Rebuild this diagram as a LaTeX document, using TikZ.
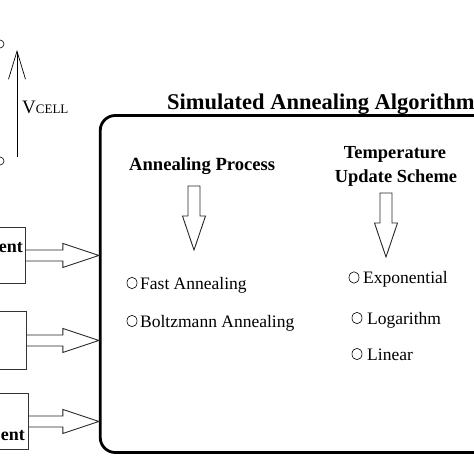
\documentclass[tikz,border=0pt]{standalone}
\usepackage{fontspec}
\setmainfont{Liberation Serif}
\usetikzlibrary{arrows.meta, positioning, calc, shapes.geometric}

\begin{document}
\begin{tikzpicture}[
    x=1pt, y=-1pt,
    srcbox/.style={rectangle, draw=black!80, line width=0.9pt, minimum width=70pt, inner sep=0pt},
    algobox/.style={rectangle, draw, line width=2.8pt, rounded corners=15pt, inner sep=0pt},
    head/.style={font=\fontsize{18.4}{24}\selectfont\bfseries, inner sep=0pt, anchor=base},
    item/.style={font=\fontsize{17.5}{20}\selectfont, inner sep=0pt, anchor=base west},
    bullet/.style={ellipse, draw, line width=0.6pt, minimum width=10pt, minimum height=11.5pt, inner sep=0pt},
    terminal/.style={circle, draw, line width=0.6pt, minimum size=8pt, inner sep=0pt},
    blocktext/.style={font=\fontsize{18}{20}\selectfont\bfseries, inner sep=0pt, anchor=base east},
    rightarrow/.style={draw=black!85, line width=0.9pt, to path={
        let \p1=(\tikztostart), \p2=(\tikztotarget) in
        (\x1,{\y1+5.5pt}) -- ({\x2-36pt},{\y1+5.5pt}) -- ({\x2-36pt},{\y1+12pt}) -- (\x2,\y1)
        -- ({\x2-36pt},{\y1-12pt}) -- ({\x2-36pt},{\y1-5.5pt}) -- (\x1,{\y1-5.5pt})}},
    downarrow/.style={draw=black!85, line width=0.9pt, to path={
        let \p1=(\tikztostart), \p2=(\tikztotarget) in
        ({\x1-6pt},\y1) -- ({\x1-6pt},{\y2+34pt}) -- ({\x1-11.5pt},{\y2+34pt}) -- (\x1,\y2)
        -- ({\x1+11.5pt},{\y2+34pt}) -- ({\x1+6pt},{\y2+34pt}) -- ({\x1+6pt},\y1) -- cycle}}
]
    \useasboundingbox (0,0) rectangle (474,474);

    % Cell voltage
    \node[terminal] (vtop) at (0,44) {};
    \node[terminal] (vbot) at (0,161) {};
    \coordinate (vfoot) at (17,157);
    \coordinate (vhead) at (17,50);
    \draw[-{Straight Barb[length=28pt, width=17pt]}, line width=0.7pt] (vfoot) -- (vhead);
    \node[anchor=base west, inner sep=0pt, font=\fontsize{19}{20}\selectfont] (vcell) at (22,113)
        {V{\fontsize{13}{13}\selectfont CELL}};

    % Algorithm frame
    \node[algobox, minimum width=389.5pt, minimum height=337pt] (algo) at (295,284) {};
    \node[anchor=base west, inner sep=0pt, font=\fontsize{22.5}{24}\selectfont\bfseries] (title)
        at (167,109) {Simulated Annealing Algorithm};

    % Input blocks
    \node[srcbox, minimum height=56pt, anchor=north east] (blockA) at (26,227) {};
    \node[srcbox, minimum height=58pt, anchor=north east] (blockB) at (27,311) {};
    \node[srcbox, minimum height=56pt, anchor=north east] (blockC) at (29,393) {};
    \node[blocktext] (blockAtext) at (23,252) {ent};
    \node[blocktext] (blockCtext) at (25,440) {ent};

    \draw[rightarrow] (blockA.east) to (blockA.east -| algo.west);
    \draw[rightarrow] (blockB.east) to (blockB.east -| algo.west);
    \draw[rightarrow] (blockC.east) to (blockC.east -| algo.west);

    % Annealing process
    \node[head, anchor=base west, font=\fontsize{18.6}{24}\selectfont\bfseries] (proc) at (129,170) {Annealing Process};
    \coordinate (proctop) at (194,186);
    \coordinate (proctip) at (194,250);
    \draw[downarrow] (proctop) to (proctip);

    \node[bullet] (bfast) at (132,283) {};
    \node[item] (fast) at (140,289) {Fast Annealing};
    \node[bullet] (bboltz) at (132,321) {};
    \node[item] (boltz) at (140,327) {Boltzmann Annealing};

    % Temperature update scheme
    \node[head] (temp) at (395,158) {Temperature};
    \node[head] (scheme) at (396,182) {Update Scheme};
    \coordinate (schemetop) at (386,193);
    \coordinate (schemetip) at (386,257);
    \draw[downarrow] (schemetop) to (schemetip);

    \node[bullet] (bexp) at (354,277.5) {};
    \node[item] (expo) at (363,283) {Exponential};
    \node[bullet] (blog) at (357,318) {};
    \node[item] (loga) at (367,324) {Logarithm};
    \node[bullet] (blin) at (357,354) {};
    \node[item] (lin) at (367,360) {Linear};
\end{tikzpicture}
\end{document}
